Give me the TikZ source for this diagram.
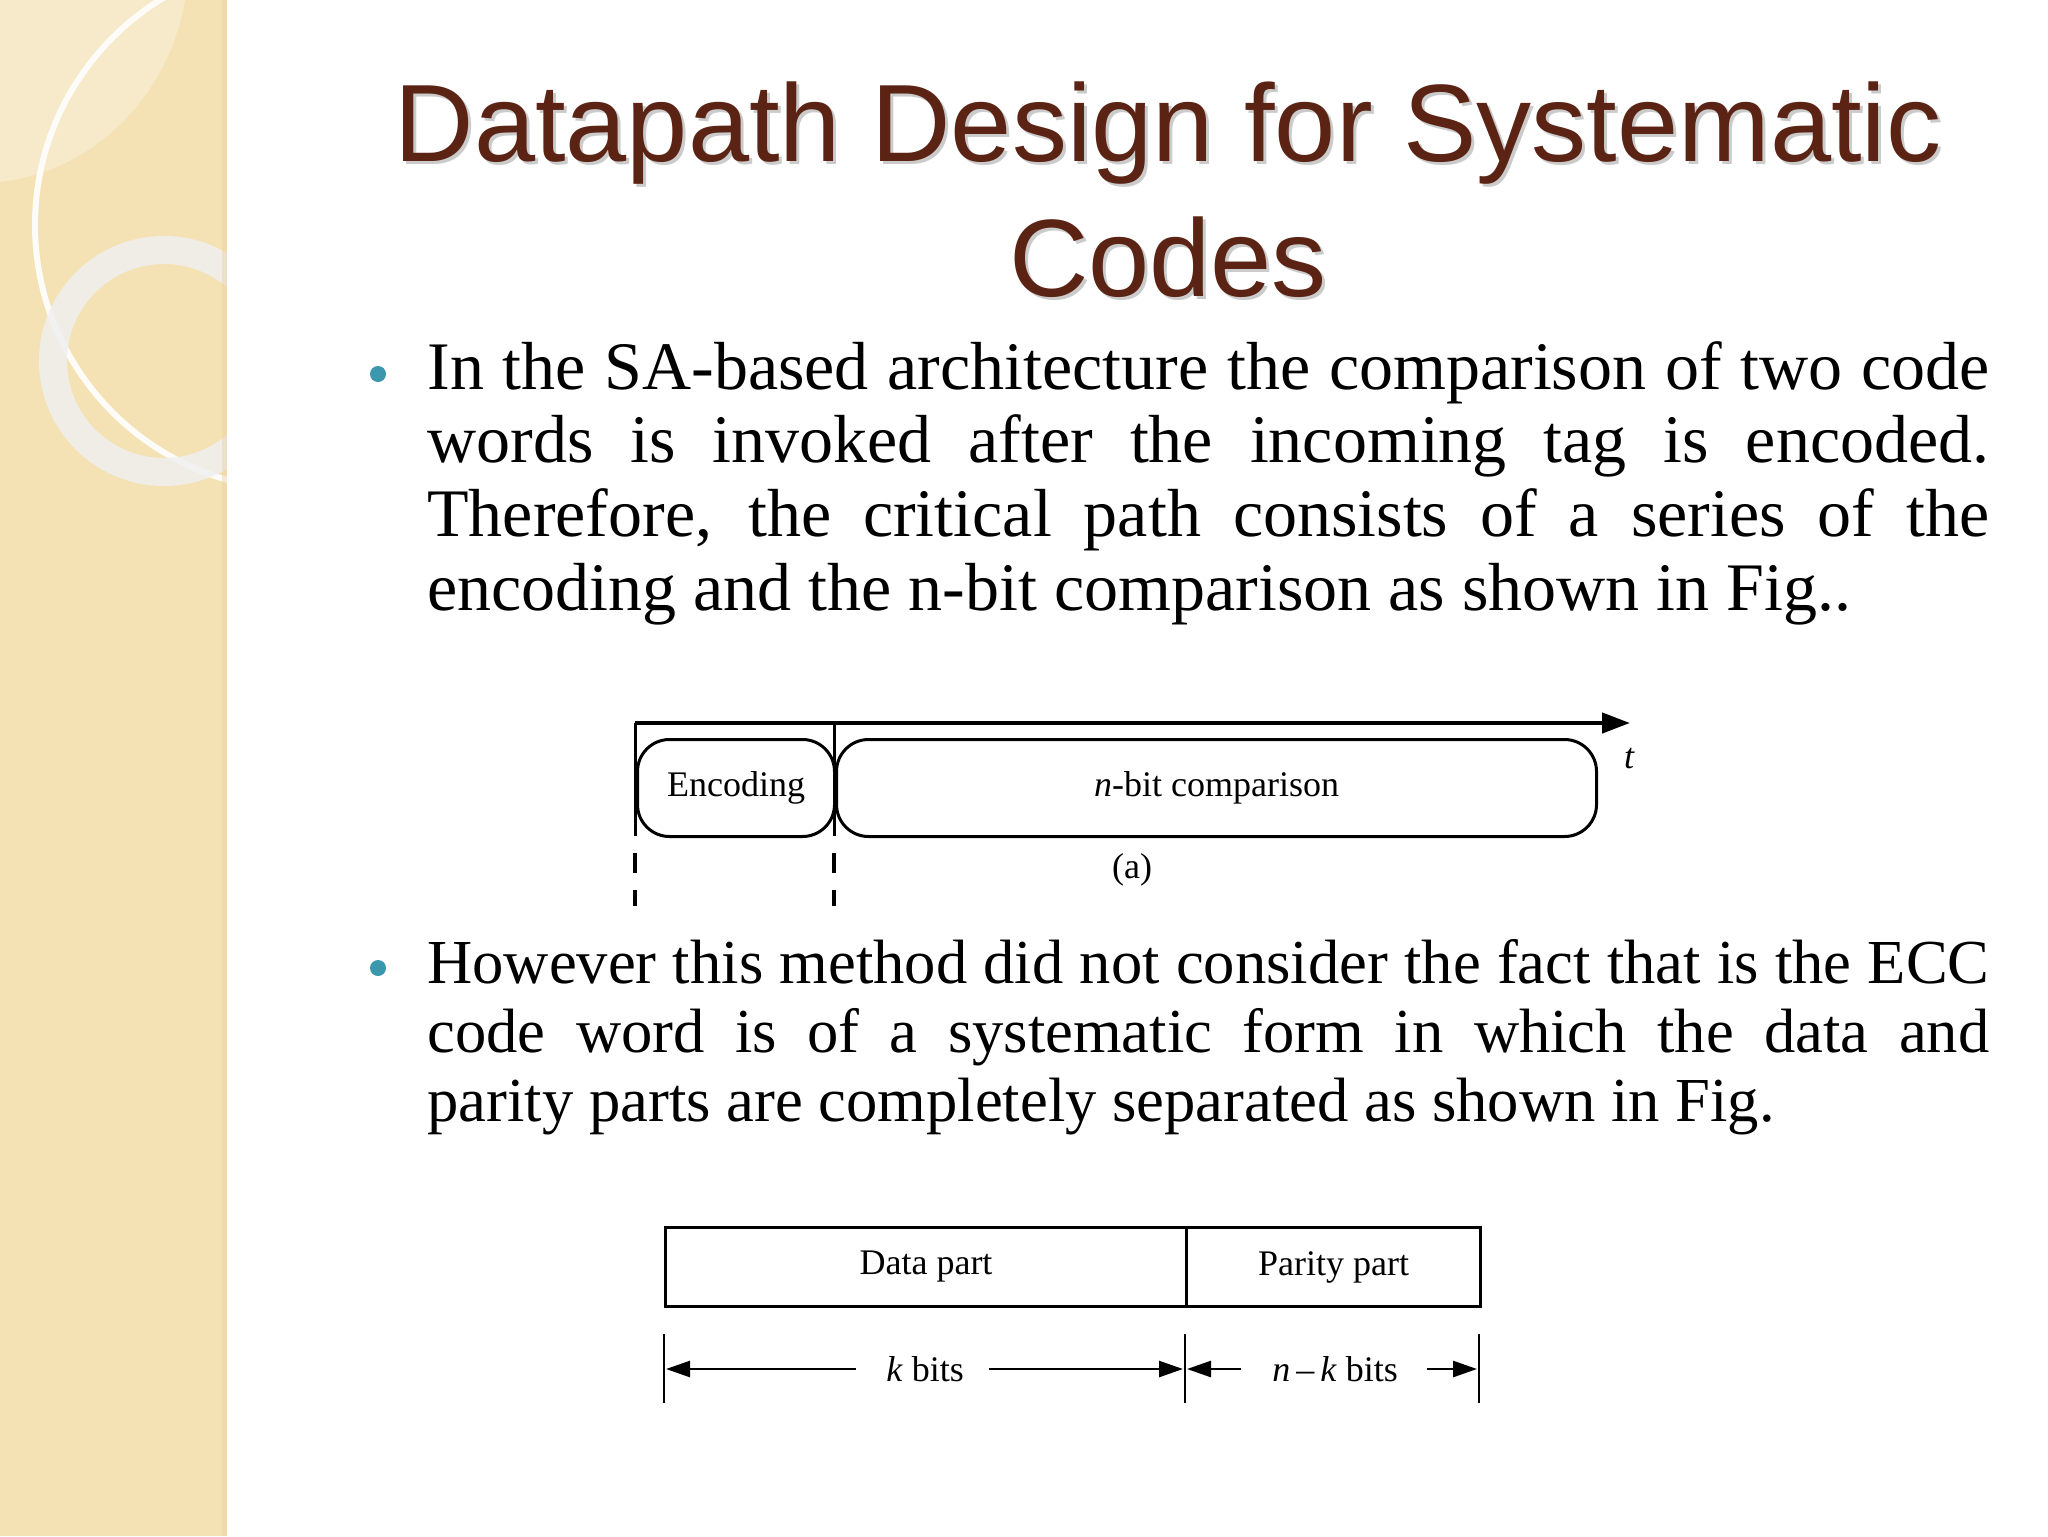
\documentclass[tikz,border=0pt]{standalone}
\usepackage{fontspec}
\setmainfont{Liberation Serif}
\newfontfamily\titlefont{Liberation Sans}
\usetikzlibrary{arrows.meta}
\definecolor{sidebg}{HTML}{F4E2B4}
\definecolor{titlebrown}{HTML}{5A2314}
\definecolor{bullet}{HTML}{3A97AE}
\tikzset{
  body/.style={text width=781pt, align=justify, anchor=north west, inner sep=0pt, font=\fontsize{34}{36.8}\selectfont},
  figtext/.style={font=\fontsize{18}{20}\selectfont, inner sep=0pt},
  phase/.style={draw, line width=1.5pt, rounded corners=16pt},
  dimline/.style={line width=1.3pt},
}
\begin{document}
\begin{tikzpicture}[x=0.5pt,y=-0.5pt]
\useasboundingbox (0,0) rectangle (2048,1536);
\fill[white] (0,0) rectangle (2048,1536);
% sidebar
\begin{scope}
\clip (0,0) rectangle (227,1536);
\fill[sidebg] (0,0) rectangle (227,1536);
\fill[white,opacity=0.3] (0,0) -- (0,182) .. controls (100,170) and (170,90) .. (185,0) -- cycle;
\draw[white!90!sidebg, line width=3pt] (300,225) circle (265);
\draw[white!88!gray, opacity=0.85, line width=14pt] (164,361) circle (111);
\end{scope}
\fill[sidebg!80!brown, opacity=0.4] (222,0) rectangle (227,1536);
% title
\node[font=\titlefont\fontsize{55}{67.6}\selectfont, text=black!40, opacity=0.5, align=center, anchor=north] at (1171,78) {Datapath Design for Systematic\\Codes};
\node[font=\titlefont\fontsize{55}{67.6}\selectfont, text=titlebrown, align=center, anchor=north] (title) at (1168,75) {Datapath Design for Systematic\\Codes};
% bullets
\fill[bullet] (378,374) circle (8);
\fill[bullet] (378,968) circle (8);
\node[body] (p1) at (427,341) {In the SA-based architecture the comparison of two code\linebreak words is invoked after the incoming tag is encoded.\linebreak Therefore, the critical path consists of a series of the\linebreak encoding and the n-bit comparison as shown in Fig..};
\node[body, font=\fontsize{31.3}{34.5}\selectfont] (p2) at (427,939) {However this method did not consider the fact that is the ECC\linebreak code word is of a systematic form in which the data and\linebreak parity parts are completely separated as shown in Fig.};
% figure (a)
\coordinate (a0) at (635,723);
\coordinate (a1) at (1630,723);
\draw[line width=2.2pt, -{Triangle[length=14pt,width=10pt]}] (a0) -- (a1);
\coordinate (t1) at (834,723);
\draw[line width=1.5pt] (a0) -- (635,836);
\draw[line width=1.5pt] (t1) -- (834,836);
\foreach \xx in {635,834}{
  \draw[line width=2pt] (\xx,853) -- (\xx,873);
  \draw[line width=2pt] (\xx,890) -- (\xx,906);
}
\node[phase, minimum width=98.5pt, minimum height=48.5pt, anchor=north west] (enc) at (636,738) {};
\node[figtext] at (enc.center) {Encoding};
\node[phase, minimum width=380pt, minimum height=48.5pt, anchor=north west] (cmp) at (835,738) {};
\node[figtext] at (cmp.center) {\textit{n}-bit comparison};
\node[figtext, font=\itshape\fontsize{18}{20}\selectfont] (t) at (1629,759) {t};
\node[figtext] (a) at (1132,870) {(a)};
% figure (b)
\node[draw, line width=1.5pt, minimum width=260.5pt, minimum height=39.5pt, anchor=north west, inner sep=0pt] (data) at (664,1226) {};
\node[figtext] at (data.center) {Data part};
\node[draw, line width=1.5pt, minimum width=147pt, minimum height=39.5pt, anchor=north west, inner sep=0pt] (par) at (1185,1226) {};
\node[figtext] at (par.center) {Parity part};
\coordinate (v0t) at (664,1334); \coordinate (v0b) at (664,1403);
\coordinate (v1t) at (1185,1334); \coordinate (v1b) at (1185,1403);
\coordinate (v2t) at (1479,1334); \coordinate (v2b) at (1479,1403);
\draw[dimline] (v0t) -- (v0b);
\draw[dimline] (v1t) -- (v1b);
\draw[dimline] (v2t) -- (v2b);
\node[figtext] (kb) at (925,1369) {\textit{k} bits};
\node[figtext] (nkb) at (1335,1369) {\textit{n}\,\textendash\,\textit{k} bits};
\draw[dimline, -{Triangle[length=12pt,width=8pt]}] (856,1369) -- (666,1369);
\draw[dimline, -{Triangle[length=12pt,width=8pt]}] (989,1369) -- (1183,1369);
\draw[dimline, -{Triangle[length=12pt,width=8pt]}] (1241,1369) -- (1187,1369);
\draw[dimline, -{Triangle[length=12pt,width=8pt]}] (1427,1369) -- (1477,1369);
\end{tikzpicture}
\end{document}
